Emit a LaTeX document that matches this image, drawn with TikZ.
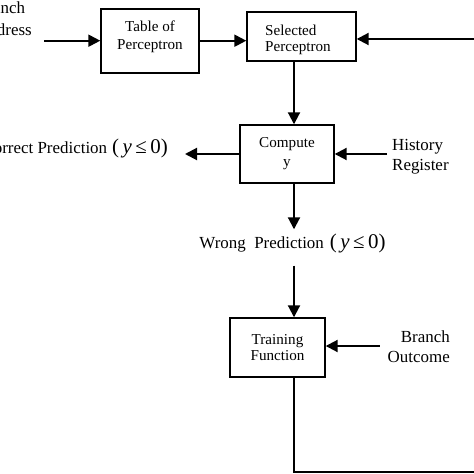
\documentclass[tikz,border=0pt]{standalone}
\usepackage{fontspec}
\setmainfont{Liberation Serif}
\usetikzlibrary{arrows.meta}
\begin{document}
\begin{tikzpicture}[x=1bp,y=-1bp,
  box/.style={draw, line width=1.4bp, inner sep=0pt, font=\fontsize{15.2}{17}\selectfont, align=center},
  btxt/.style={inner sep=0pt, font=\fontsize{15.2}{17}\selectfont},
  lbl/.style={inner sep=0pt, font=\fontsize{17}{20}\selectfont},
  arr/.style={line width=2bp, -{Triangle[length=12bp,width=12bp]}},
  ln/.style={line width=2bp}]
\clip (0,0) rectangle (474,474);
% boxes
\node[box, minimum width=98bp, minimum height=64bp] (tab) at (150,41) {};
\node[btxt, align=center, font=\fontsize{15.2}{18}\selectfont] (tabt) at (150,36.5) {Table of\\Perceptron};
\node[box, minimum width=109bp, minimum height=49bp] (sel) at (301.5,36.5) {};
\node[btxt, anchor=west, align=left, font=\fontsize{15.2}{16}\selectfont] (selt) at (265,39.5) {Selected\\Perceptron};
\node[box, minimum width=94bp, minimum height=58bp, font=\fontsize{15.2}{19}\selectfont] (cmp) at (287,154) {Compute\\y};
\node[box, minimum width=95bp, minimum height=59bp, font=\fontsize{15.2}{16.5}\selectfont] (trn) at (277.5,347.5) {Training\\Function};
% labels
\node[lbl, anchor=west, align=left, font=\fontsize{17}{22}\selectfont] (addr) at (-24,19) {Branch\\Address};
\node[lbl, anchor=west, align=left] (hist) at (392,157) {History\\Register};
\node[lbl, anchor=east, align=right] (out) at (450,347) {Branch\\Outcome};
\node[lbl, anchor=east] (cor) at (168,149) {Correct Prediction\hspace{5bp}{\fontsize{21}{21}\selectfont(\,\textit{y}\,≤\,0)}};
\node[lbl] (wrong) at (292.5,243) {Wrong\ \ Prediction\hspace{6bp}{\fontsize{21}{21}\selectfont(\,\textit{y}\,≤\,0)}};
% helper coordinates
\coordinate (xv) at (294,0);
\coordinate (a0) at (44,40.7);
\coordinate (r0) at (474,39);
\coordinate (b0) at (474,472);
% connectors
\draw[arr] (a0) -- (a0 -| tab.west);
\draw[arr] (tab.east |- a0) -- (a0 -| sel.west);
\draw[arr] (r0) -- (r0 -| sel.east);
\draw[arr] (sel.south -| xv) -- (cmp.north -| xv);
\draw[arr, shorten >=17bp] (cmp.west) -- (cmp.west -| cor.east);
\draw[arr, shorten <=5bp] (hist.west |- cmp) -- (cmp.east);
\draw[arr, shorten >=4bp] (cmp.south -| xv) -- (wrong.north -| xv);
\draw[arr, shorten <=13bp] (wrong.south -| xv) -- (trn.north -| xv);
\draw[arr, shorten <=8bp] (out.west |- 0,346) -- (trn.east |- 0,346);
\draw[ln] (trn.south -| xv) -- (b0 -| xv) -- (b0);
\end{tikzpicture}
\end{document}
